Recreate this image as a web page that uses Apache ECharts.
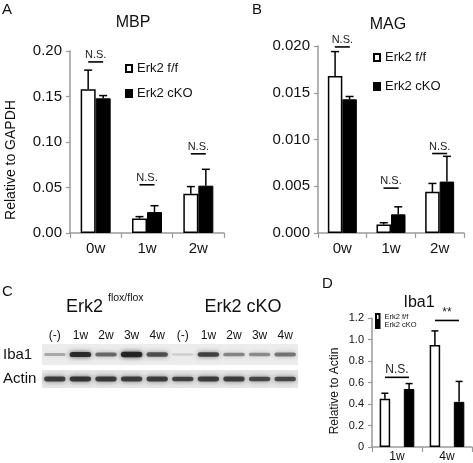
<!DOCTYPE html>
<html><head><meta charset="utf-8">
<script src="https://cdn.jsdelivr.net/npm/echarts@6/dist/echarts.min.js"></script>
<style>html,body{margin:0;padding:0;background:#fff}#c{width:473px;height:463px}</style>
</head><body><div id="c"></div>
<script>
// ---- data ----
const timeCats = ['0w', '1w', '2w'];
const mbpFF = [0.158, 0.016, 0.043];
const mbpFFUpper = [0.179, 0.018, 0.051];
const mbpKO = [0.148, 0.023, 0.052];
const mbpKOUpper = [0.151, 0.030, 0.070];
const mbpSigLevel = [0.188, 0.053, 0.087];
const mbpSigLabel = ['N.S.', 'N.S.', 'N.S.'];

const magFF = [0.0168, 0.0009, 0.0044];
const magFFUpper = [0.0194, 0.0011, 0.0053];
const magKO = [0.0143, 0.0020, 0.0055];
const magKOUpper = [0.0146, 0.0028, 0.0082];
const magSigLevel = [0.0199, 0.0048, 0.0085];
const magSigLabel = ['N.S.', 'N.S.', 'N.S.'];

const blotLanes = ['(-)', '1w', '2w', '3w', '4w', '(-)', '1w', '2w', '3w', '4w'];
const iba1Band = [0.32, 0.92, 0.6, 0.95, 0.72, 0.15, 0.78, 0.48, 0.45, 0.55];
const actinBand = [0.8, 0.85, 0.82, 0.8, 0.8, 0.78, 0.8, 0.8, 0.75, 0.75];

const ibaCats = ['1w', '4w'];
const ibaFF = [0.45, 0.95];
const ibaFFUpper = [0.50, 1.08];
const ibaKO = [0.54, 0.42];
const ibaKOUpper = [0.59, 0.61];
const ibaSigLevel = [0.648, 1.177];
const ibaSigLabel = ['N.S.', '**'];

const NAME_FF = 'Erk2 f/f', NAME_KO = 'Erk2 cKO';
const FF = 'Liberation Sans, Arial, Helvetica, sans-serif';
const AX = '#9a9a9a';

function errSeries(gi, means, uppers, offset, cap) {
  return {
    type: 'custom', xAxisIndex: gi, yAxisIndex: gi, z: 5, silent: true,
    data: means.map((m, i) => [i, m, uppers[i]]),
    renderItem(params, api) {
      const lo = api.coord([api.value(0), api.value(1)]);
      const hi = api.coord([api.value(0), api.value(2)]);
      const x = lo[0] + offset;
      return { type: 'group', children: [
        { type: 'line', shape: { x1: x, y1: lo[1], x2: x, y2: hi[1] }, style: { stroke: '#000', lineWidth: 1.5 } },
        { type: 'line', shape: { x1: x - cap / 2, y1: hi[1], x2: x + cap / 2, y2: hi[1] }, style: { stroke: '#000', lineWidth: 1.5 } }
      ] };
    }
  };
}
function sigSeries(gi, levels, labels, w, fs) {
  return {
    type: 'custom', xAxisIndex: gi, yAxisIndex: gi, z: 6, silent: true,
    data: levels.map((v, i) => [i, v]),
    renderItem(params, api) {
      const p = api.coord([api.value(0), api.value(1)]);
      const t = labels[params.dataIndex];
      return { type: 'group', children: [
        { type: 'line', shape: { x1: p[0] - w / 2, y1: p[1], x2: p[0] + w / 2, y2: p[1] }, style: { stroke: '#000', lineWidth: 1.6 } },
        { type: 'text', x: p[0], y: p[1] - 1.5, style: { text: t, fill: '#222', fontSize: fs, fontFamily: FF, align: 'center', verticalAlign: 'bottom' } }
      ] };
    }
  };
}
function barPair(gi, ff, ko, width, gap) {
  return [
    { type: 'bar', name: NAME_FF, xAxisIndex: gi, yAxisIndex: gi, data: ff, barWidth: width, barGap: gap,
      itemStyle: { color: '#fff', borderColor: '#000', borderWidth: 1.5 } },
    { type: 'bar', name: NAME_KO, xAxisIndex: gi, yAxisIndex: gi, data: ko, barWidth: width, barGap: gap,
      itemStyle: { color: '#000', borderColor: '#000', borderWidth: 1 } }
  ];
}
function bandSeries(gi, vals) {
  return {
    type: 'custom', xAxisIndex: gi, yAxisIndex: gi, silent: true,
    data: vals.map((v, i) => [i, 0, v]),
    renderItem(params, api) {
      const c = api.coord([api.value(0), 0]);
      const w = api.size([1, 1])[0];
      const a = api.value(2);
      const h = 2 + 3.5 * a;
      return { type: 'rect', shape: { x: c[0] - w * 0.42, y: c[1] - h / 2, width: w * 0.84, height: h, r: h / 2 },
        style: { fill: 'rgba(20,20,20,' + (a * 0.9) + ')', shadowBlur: 5, shadowColor: 'rgba(30,30,30,' + a + ')' } };
    }
  };
}
function valAxis(gi, min, max, interval, fmt, fs) {
  return { gridIndex: gi, type: 'value', min, max, interval,
    axisLine: { show: true, lineStyle: { color: AX, width: 1.5 } },
    axisTick: { show: true, length: 4, lineStyle: { color: AX, width: 1.2 } },
    splitLine: { show: false },
    axisLabel: { formatter: fmt, color: '#111', fontSize: fs, fontFamily: FF, margin: 8 } };
}
function catAxis(gi, data, fs, margin) {
  return { gridIndex: gi, type: 'category', data,
    axisLine: { show: true, lineStyle: { color: AX, width: 1.5 } },
    axisTick: { show: true, length: 5, lineStyle: { color: AX, width: 1.2 } },
    axisLabel: { color: '#111', fontSize: fs, fontFamily: FF, margin } };
}
function txt(text, x, y, fs, align, extra) {
  return Object.assign({ type: 'text', x, y, style: { text, fontSize: fs, fontFamily: FF, fill: '#111',
    align: align || 'left', textAlign: align || 'left', verticalAlign: 'top', textVerticalAlign: 'top' } }, extra || {});
}

const chart = echarts.init(document.getElementById('c'));
chart.setOption({
  animation: false,
  backgroundColor: '#fff',
  grid: [
    { left: 70, top: 51, width: 154, height: 182 },
    { left: 318, top: 46, width: 146, height: 187 },
    { left: 372, top: 318, width: 100, height: 130 },
    { left: 42, top: 344, width: 256, height: 21, show: true, backgroundColor: '#ececec', borderWidth: 0 },
    { left: 42, top: 370, width: 256, height: 18, show: true, backgroundColor: '#e6e6e6', borderWidth: 0 }
  ],
  xAxis: [
    catAxis(0, timeCats, 15, 8),
    catAxis(1, timeCats, 15, 8),
    catAxis(2, ibaCats, 12, 4),
    { gridIndex: 3, type: 'category', data: blotLanes, position: 'top',
      axisLine: { show: false }, axisTick: { show: false },
      axisLabel: { color: '#111', fontSize: 12, fontFamily: FF, margin: 2 } },
    { gridIndex: 4, type: 'category', data: blotLanes, show: false }
  ],
  yAxis: [
    valAxis(0, 0, 0.2, 0.05, v => v.toFixed(2), 15),
    valAxis(1, 0, 0.02, 0.005, v => v.toFixed(3), 15),
    valAxis(2, 0, 1.2, 0.2, v => (v === 0 ? '0' : v.toFixed(1)), 11),
    { gridIndex: 3, type: 'category', data: ['Iba1'], axisLine: { show: false }, axisTick: { show: false },
      axisLabel: { color: '#111', fontSize: 15, fontFamily: FF, align: 'left', margin: 39 } },
    { gridIndex: 4, type: 'category', data: ['Actin'], axisLine: { show: false }, axisTick: { show: false },
      axisLabel: { color: '#111', fontSize: 15, fontFamily: FF, align: 'left', margin: 39 } }
  ],
  legend: [
    { left: 125, top: 62, orient: 'vertical', padding: 0, itemWidth: 6, itemHeight: 7, itemGap: 12, icon: 'rect',
      data: [NAME_FF, NAME_KO], textStyle: { fontSize: 13, fontFamily: FF, color: '#111' }, selectedMode: false },
    { left: 373, top: 51, orient: 'vertical', padding: 0, itemWidth: 6, itemHeight: 7, itemGap: 16, icon: 'rect',
      data: [NAME_FF, NAME_KO], textStyle: { fontSize: 13, fontFamily: FF, color: '#111' }, selectedMode: false },
    { left: 375, top: 313, orient: 'vertical', padding: 0, itemWidth: 3.5, itemHeight: 6, itemGap: 0, icon: 'rect',
      data: [NAME_FF, NAME_KO], textStyle: { fontSize: 7.5, fontFamily: FF, color: '#111' }, selectedMode: false }
  ],
  series: [
    ...barPair(0, mbpFF, mbpKO, 15, '0%'),
    errSeries(0, mbpFF, mbpFFUpper, -7.5, 8),
    errSeries(0, mbpKO, mbpKOUpper, 7.5, 8),
    sigSeries(0, mbpSigLevel, mbpSigLabel, 15, 11),
    ...barPair(1, magFF, magKO, 14.5, '0%'),
    errSeries(1, magFF, magFFUpper, -7.25, 8),
    errSeries(1, magKO, magKOUpper, 7.25, 8),
    sigSeries(1, magSigLevel, magSigLabel, 15, 11),
    ...barPair(2, ibaFF, ibaKO, 10.5, '130%'),
    errSeries(2, ibaFF, ibaFFUpper, -12.1, 7),
    errSeries(2, ibaKO, ibaKOUpper, 12.1, 7),
    sigSeries(2, ibaSigLevel, ibaSigLabel, 24, 12),
    bandSeries(3, iba1Band),
    bandSeries(4, actinBand)
  ],
  graphic: [
    txt('A', 2, 2, 15),
    txt('MBP', 133, 15, 16, 'center'),
    txt('B', 252, 2, 15),
    txt('MAG', 388, 17, 16, 'center'),
    txt('C', 2, 284, 15),
    txt('Erk2', 66, 298, 18),
    txt('flox/flox', 108, 293, 10.5),
    txt('Erk2 cKO', 243, 298, 18, 'center'),
    txt('D', 322, 276, 15),
    txt('Iba1', 419, 295, 16, 'center'),
    { type: 'text', x: 11, y: 160, rotation: Math.PI / 2,
      style: { text: 'Relative to GAPDH', fontSize: 14, fontFamily: FF, fill: '#111', align: 'center', textAlign: 'center', verticalAlign: 'middle', textVerticalAlign: 'middle' } },
    { type: 'text', x: 335, y: 391, rotation: Math.PI / 2,
      style: { text: 'Relative to Actin', fontSize: 12, fontFamily: FF, fill: '#111', align: 'center', textAlign: 'center', verticalAlign: 'middle', textVerticalAlign: 'middle' } }
  ]
});
</script></body></html>
